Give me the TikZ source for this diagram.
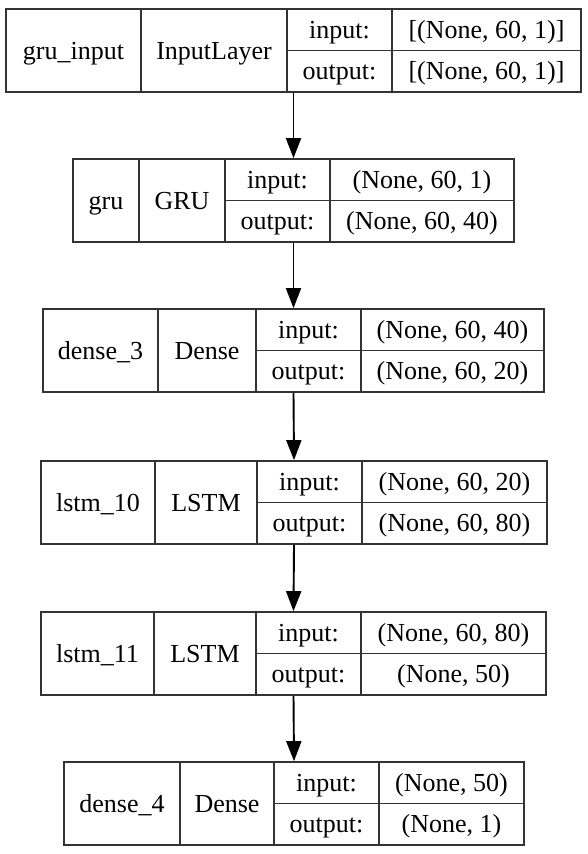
\documentclass[tikz,border=0pt]{standalone}
\usepackage{fontspec}
\setmainfont{Liberation Serif}
\usetikzlibrary{arrows.meta}
\tikzset{layer/.style={draw=black!80, line width=1.7pt, inner sep=0pt, minimum height=83pt}}
\tikzset{cell/.style={draw=black!80, line width=1.7pt}}
\tikzset{lbl/.style={font=\fontsize{26}{30}\selectfont, inner sep=0pt, text height=17.5pt, text depth=0.5pt}}
\tikzset{flow/.style={-{Triangle[length=20pt,width=15pt]}, line width=1.9pt}}

\begin{document}
\begin{tikzpicture}[x=1pt,y=-1pt]
                \useasboundingbox (0,0) rectangle (588,854);

                % gru_input
                \node[layer, minimum width=575pt] (gruin) at (293.5,50.5) {};
                \draw[cell] (141,9) -- (141,92) (287,9) -- (287,92) (392,9) -- (392,92) (287,50.5) -- (581,50.5);
                \node[lbl] (gruin-name) at (73.5,50.5) {gru\_input};
                \node[lbl] (gruin-type) at (214,50.5) {InputLayer};
                \node[lbl] (gruin-in) at (339.5,29.75) {input:};
                \node[lbl] (gruin-out) at (339.5,71.25) {output:};
                \node[lbl] (gruin-inval) at (486.5,29.75) {[(None, 60, 1)]};
                \node[lbl] (gruin-outval) at (486.5,71.25) {[(None, 60, 1)]};

                % gru
                \node[layer, minimum width=441pt] (gru) at (293.5,200.5) {};
                \draw[cell] (139,159) -- (139,242) (225,159) -- (225,242) (330,159) -- (330,242) (225,200.5) -- (514,200.5);
                \node[lbl] (gru-name) at (106,200.5) {gru};
                \node[lbl] (gru-type) at (182,200.5) {GRU};
                \node[lbl] (gru-in) at (277.5,179.75) {input:};
                \node[lbl] (gru-out) at (277.5,221.25) {output:};
                \node[lbl] (gru-inval) at (422,179.75) {(None, 60, 1)};
                \node[lbl] (gru-outval) at (422,221.25) {(None, 60, 40)};

                % dense_3
                \node[layer, minimum width=501pt] (dense3) at (293.5,350.5) {};
                \draw[cell] (158,309) -- (158,392) (256,309) -- (256,392) (361,309) -- (361,392) (256,350.5) -- (544,350.5);
                \node[lbl] (dense3-name) at (100.5,350.5) {dense\_3};
                \node[lbl] (dense3-type) at (207,350.5) {Dense};
                \node[lbl] (dense3-in) at (308.5,329.75) {input:};
                \node[lbl] (dense3-out) at (308.5,371.25) {output:};
                \node[lbl] (dense3-inval) at (452.5,329.75) {(None, 60, 40)};
                \node[lbl] (dense3-outval) at (452.5,371.25) {(None, 60, 20)};

                % lstm_10
                \node[layer, minimum width=506pt] (lstm10) at (294,502.5) {};
                \draw[cell] (155,461) -- (155,544) (257,461) -- (257,544) (362,461) -- (362,544) (257,502.5) -- (547,502.5);
                \node[lbl] (lstm10-name) at (98,502.5) {lstm\_10};
                \node[lbl] (lstm10-type) at (206,502.5) {LSTM};
                \node[lbl] (lstm10-in) at (309.5,481.75) {input:};
                \node[lbl] (lstm10-out) at (309.5,523.25) {output:};
                \node[lbl] (lstm10-inval) at (454.5,481.75) {(None, 60, 20)};
                \node[lbl] (lstm10-outval) at (454.5,523.25) {(None, 60, 80)};

                % lstm_11
                \node[layer, minimum width=505pt] (lstm11) at (293.5,653.5) {};
                \draw[cell] (154,612) -- (154,695) (256,612) -- (256,695) (361,612) -- (361,695) (256,653.5) -- (546,653.5);
                \node[lbl] (lstm11-name) at (97.5,653.5) {lstm\_11};
                \node[lbl] (lstm11-type) at (205,653.5) {LSTM};
                \node[lbl] (lstm11-in) at (308.5,632.75) {input:};
                \node[lbl] (lstm11-out) at (308.5,674.25) {output:};
                \node[lbl] (lstm11-inval) at (453.5,632.75) {(None, 60, 80)};
                \node[lbl] (lstm11-outval) at (453.5,674.25) {(None, 50)};

                % dense_4
                \node[layer, minimum width=460pt] (dense4) at (294,803.5) {};
                \draw[cell] (180,762) -- (180,845) (274,762) -- (274,845) (379,762) -- (379,845) (274,803.5) -- (524,803.5);
                \node[lbl] (dense4-name) at (122,803.5) {dense\_4};
                \node[lbl] (dense4-type) at (227,803.5) {Dense};
                \node[lbl] (dense4-in) at (326.5,782.75) {input:};
                \node[lbl] (dense4-out) at (326.5,824.25) {output:};
                \node[lbl] (dense4-inval) at (451.5,782.75) {(None, 50)};
                \node[lbl] (dense4-outval) at (451.5,824.25) {(None, 1)};

                % Arrows
                \draw[flow] (gruin.south) -- (gru.north);
                \draw[flow] (gru.south) -- (dense3.north);
                \draw[flow] (dense3.south) -- (lstm10.north);
                \draw[flow] (lstm10.south) -- (lstm11.north);
                \draw[flow] (lstm11.south) -- (dense4.north);
            \end{tikzpicture}
\end{document}
